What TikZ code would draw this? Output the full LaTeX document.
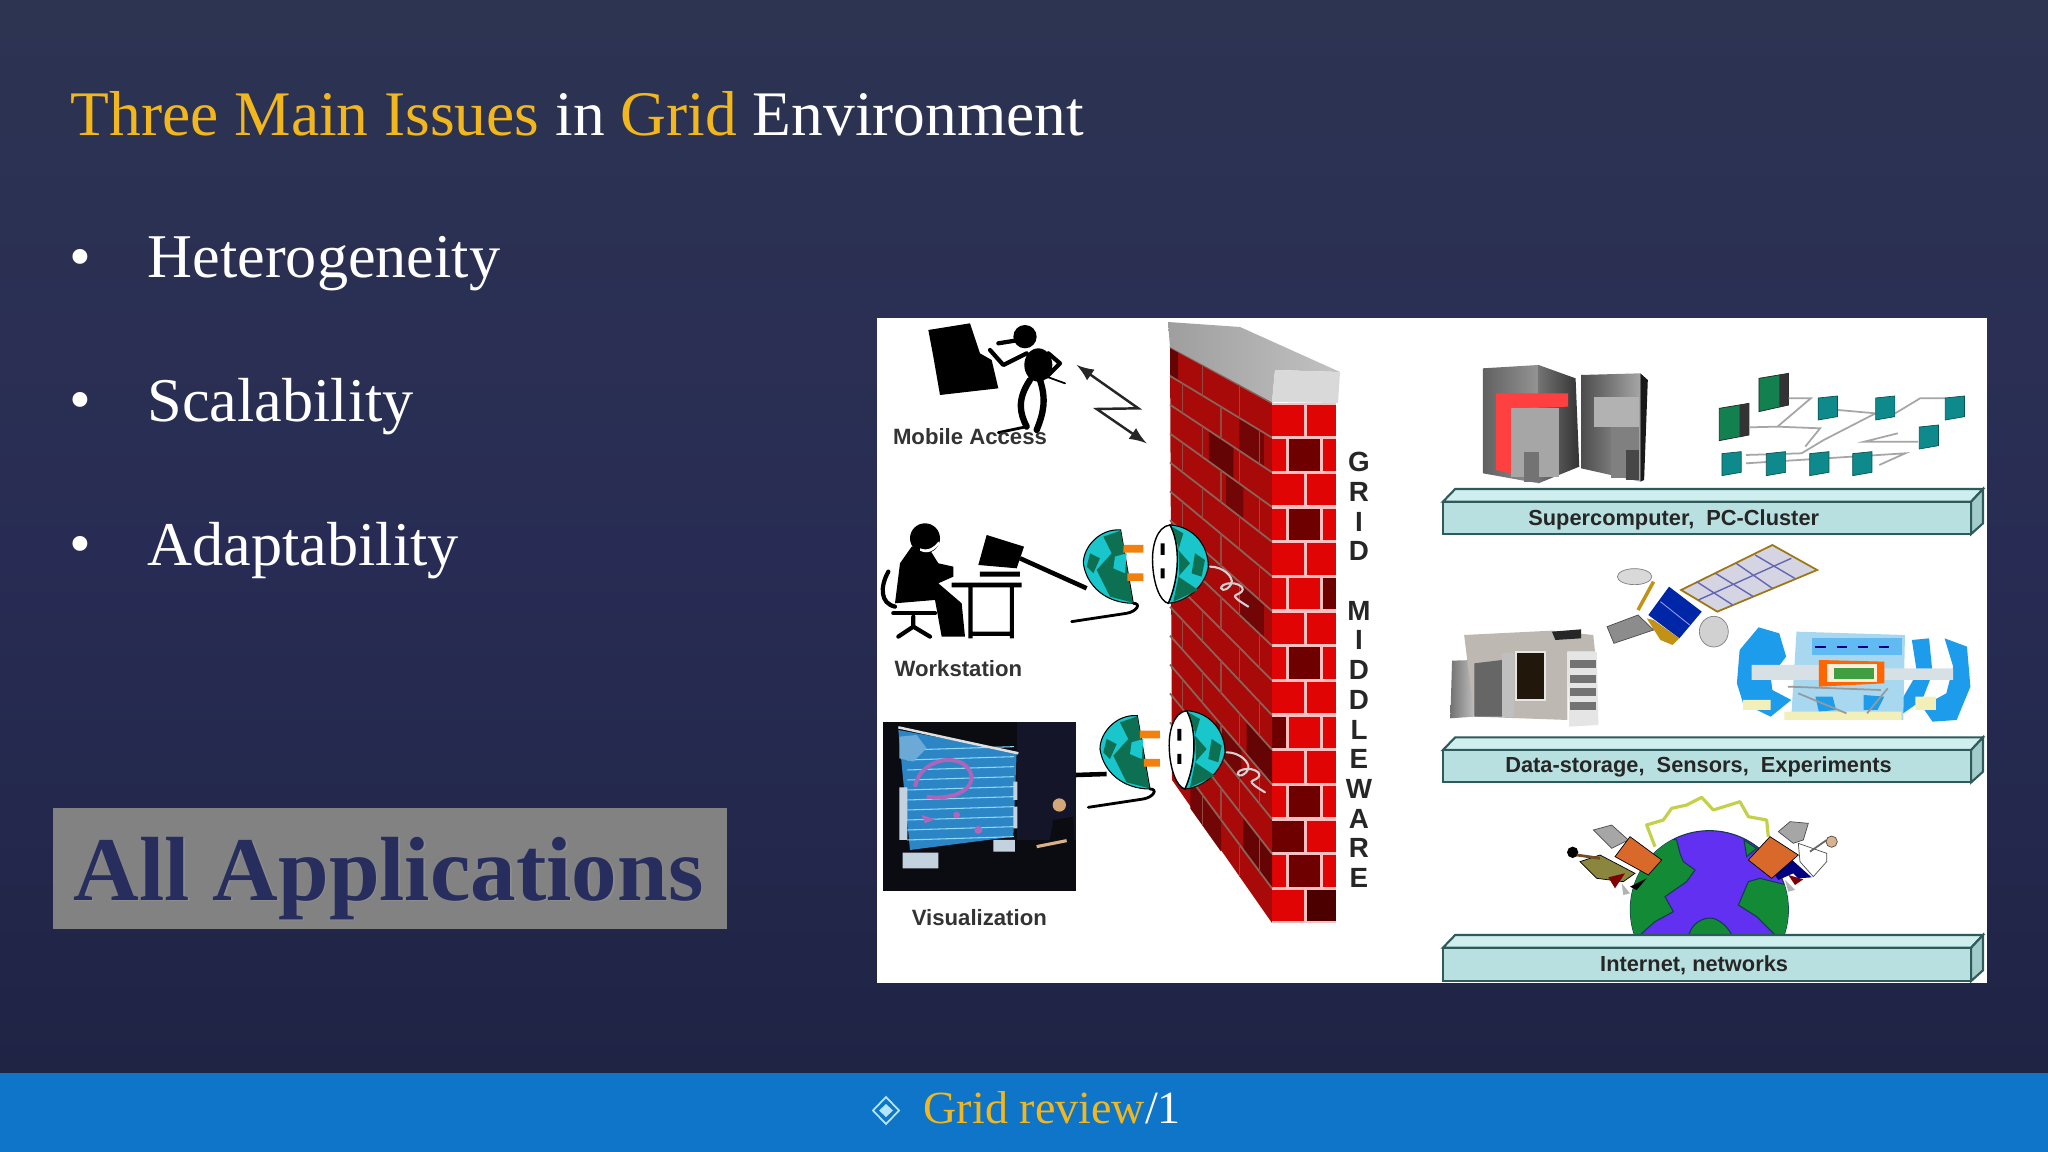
\documentclass[tikz,border=0pt]{standalone}
\usepackage{fontspec}
\setmainfont{Liberation Serif}
\newfontfamily\labelfont{Liberation Sans}
\usetikzlibrary{arrows}

\definecolor{slidetop}{HTML}{2D3452}
\definecolor{slidemid}{HTML}{282C54}
\definecolor{slidebot}{HTML}{1F2445}
\definecolor{gold}{HTML}{F2B71C}
\definecolor{footerblue}{HTML}{0F75C9}
\definecolor{navytext}{HTML}{272E5E}
\definecolor{brickred}{HTML}{E00404}
\definecolor{brickdark}{HTML}{6E0000}
\definecolor{sidered}{HTML}{A80A0A}
\definecolor{sidedark}{HTML}{640404}
\definecolor{mortar}{HTML}{8A6458}
\definecolor{slabfront}{HTML}{B9E0E0}
\definecolor{slabtop}{HTML}{CFEFEF}
\definecolor{slabside}{HTML}{A2CCCC}
\definecolor{slabline}{HTML}{2F5A5A}
\definecolor{plugteal}{HTML}{0E7052}
\definecolor{plugcyan}{HTML}{18C6CC}
\definecolor{clusterteal}{HTML}{0E8A8C}
\definecolor{clustergreen}{HTML}{12804F}
\definecolor{detblue}{HTML}{1E9CEC}
\definecolor{detpale}{HTML}{A8D8F0}
\definecolor{globeviolet}{HTML}{6230F0}
\definecolor{globegreen}{HTML}{128A36}
\definecolor{landline}{HTML}{143A50}
\definecolor{roomdark}{HTML}{15152A}
\definecolor{roomblack}{HTML}{0B0B12}
\definecolor{screenblue}{HTML}{2C86C6}
\definecolor{paneldim}{HTML}{C4D2E0}
\definecolor{boxorange}{HTML}{D9692A}
\definecolor{cableyellow}{HTML}{C4D04A}
\definecolor{panelgrey}{HTML}{D4D4E2}
\definecolor{cabinet}{HTML}{BEB8B2}

\tikzset{
    zoomA/.style={shift={(870,310)},scale=0.3333},
    zoomB/.style={shift={(870,680)},scale=0.3333},
    zoomC/.style={shift={(1420,310)},xscale=0.3704,yscale=0.3333},
    zoomD/.style={shift={(1420,680)},xscale=0.3704,yscale=0.3333},
    zoomE/.style={shift={(1540,790)},scale=0.3333},
    zoomF/.style={shift={(1440,540)},xscale=0.3444,yscale=0.3333},
    bullettext/.style={anchor=west,inner sep=0,text=white,font=\fontsize{17.7}{20}\selectfont},
    labeltext/.style={inner sep=0,text=black!80,font=\labelfont\bfseries\fontsize{6.3}{8}\selectfont},
    slabtext/.style={inner sep=0,text=black!85,font=\labelfont\bfseries\fontsize{6.2}{8}\selectfont},
    silhouette/.style={line width=1.2pt,line cap=round,line join=round},
    smallbox/.style={fill=clusterteal,draw=clusterteal!60!black,line width=.2pt},
    thinedge/.style={draw=black!70,line width=.2pt},
    plug/.pic={
        % halves of the plug, both in the first crop's numbers
        \filldraw[plugcyan,draw=black,line width=.3pt] (752,660) .. controls (690,655) and (640,710) .. (640,760) .. controls (650,830) and (710,880) .. (790,880) -- cycle;
        \fill[plugteal] (752,662) -- (700,680) -- (725,730) -- (680,780) -- (720,860) -- (788,878) -- cycle;
        \fill[plugcyan] (735,740) -- (770,730) -- (765,790) -- (730,775) -- cycle;
        \fill[plugteal] (660,730) -- (690,745) -- (670,790) -- (650,770) -- cycle;
        \fill[orange!80!brown] (760,705) rectangle (820,728) (772,790) rectangle (820,813);
        \filldraw[plugcyan,draw=black,line width=.3pt] (900,645) .. controls (975,650) and (1015,710) .. (1015,770) .. controls (1005,830) and (950,875) .. (895,880) .. controls (930,800) and (930,700) .. (900,645) -- cycle;
        \fill[plugteal] (905,650) -- (940,670) -- (925,720) -- (960,760) -- (925,800) -- (985,840) -- (910,875) -- (928,790) -- (925,710) -- cycle;
        \fill[plugteal] (975,730) -- (1005,750) -- (995,800) -- (965,790) -- cycle;
        \filldraw[white,draw=black,line width=.4pt] (900,645) .. controls (860,650) and (845,710) .. (848,760) .. controls (850,820) and (870,875) .. (895,880) .. controls (930,800) and (930,700) .. (900,645) -- cycle;
        \fill[black] (872,700) rectangle (884,735) (872,775) rectangle (884,805);
        \draw[black!18,line width=.6pt,line cap=round] (1020,770) .. controls (1060,770) and (1090,800) .. (1085,820) .. controls (1070,850) and (1040,840) .. (1060,825) .. controls (1090,810) and (1130,830) .. (1115,845) .. controls (1100,860) and (1070,850) .. (1135,890);
        \draw[black,line width=.8pt,line cap=round] (790,880) .. controls (815,880) and (800,905) .. (770,910) -- (605,935);
    }
}

\newcommand{\frontbrick}[4]{\fill[#4] (#1,{403+34.67*#3+1.6}) rectangle (#2,{403+34.67*#3+33});}
\newcommand{\sidebrick}[4]{%
    \fill[#4] ({1170+102*#2},{347+56*#2+#1*(28.87+5.8*#2)}) -- ({1170+102*#3},{347+56*#3+#1*(28.87+5.8*#3)})
    -- ({1170+102*#3},{347+56*#3+(#1+1)*(28.87+5.8*#3)}) -- ({1170+102*#2},{347+56*#2+(#1+1)*(28.87+5.8*#2)}) -- cycle;}
\newcommand{\drawslab}[2]{%
    \filldraw[slabtop,draw=slabline,line width=.6pt] (62,#1) -- (95,#1-38) -- (1520,#1-38) -- (1488,#1) -- cycle;
    \filldraw[slabside,draw=slabline,line width=.6pt] (1488,#1) -- (1520,#1-38) -- (1520,#2-32) -- (1488,#2) -- cycle;
    \filldraw[slabfront,draw=slabline,line width=.6pt] (62,#1) rectangle (1488,#2);}

\begin{document}
\begin{tikzpicture}[x=0.01cm,y=-0.01cm]

    \useasboundingbox (0,0) rectangle (2048,1152);
    \fill[slidebot] (0,0) rectangle (2048,1152);
    \shade[top color=slidetop,bottom color=slidemid] (0,0) rectangle (2048,560);
    \shade[top color=slidemid,bottom color=slidebot] (0,560) rectangle (2048,1073);
    \fill[footerblue] (0,1073) rectangle (2048,1152);

    % texts of the slide
    \node[bullettext,font=\fontsize{18.05}{20}\selectfont] (title) at (70,114) {\textcolor{gold}{Three Main Issues} in \textcolor{gold}{Grid} Environment};
    \node[bullettext] (dota) at (69,263) {•};
    \node[bullettext] (hetero) at (147,264) {Heterogeneity};
    \node[bullettext] (dotb) at (69,406) {•};
    \node[bullettext] (scal) at (147,407) {Scalability};
    \node[bullettext] (dotc) at (69,550) {•};
    \node[bullettext] (adapt) at (147,551) {Adaptability};

    \fill[black!49] (53,808) rectangle (727,929);
    \node[inner sep=0,text=black!45,font=\bfseries\fontsize{25.9}{28}\selectfont] (allshadow) at (390,880) {All Applications};
    \node[inner sep=0,text=navytext,font=\bfseries\fontsize{25.9}{28}\selectfont] (allapps) at (388.5,879) {All Applications};

    \draw[white!70!cyan,line width=.5pt] (886,1097) -- (899,1110.5) -- (886,1124) -- (873,1110.5) -- cycle;
    \fill[white!70!cyan] (886,1104) -- (893,1110.5) -- (886,1117) -- (879,1110.5) -- cycle;
    \node[anchor=west,inner sep=0,text=white,font=\fontsize{13.1}{14}\selectfont] (footer) at (923,1108) {\textcolor{gold}{Grid review}/1};

    \fill[white] (877,318) rectangle (1987,983);

    % brick wall
    \fill[sidered] (1170,347) -- (1272,403) -- (1272,923) -- (1172,780) -- cycle;
    \fill[brickred!25!white] (1272,403) rectangle (1336,923);
    \foreach \row/\cola/\colb in {0/brickred/brickred,2/brickred/brickred,4/brickred/brickred,6/brickred/brickred,8/brickred/brickred,10/brickred/brickred,12/brickdark/brickred,14/brickred/brickdark!70!black}{
        \frontbrick{1272}{1304}{\row}{\cola}
        \frontbrick{1307}{1336}{\row}{\colb}
    }
    \foreach \row/\cola/\colb/\colc in {1/brickred/brickdark/brickred,3/brickred/brickdark/brickred,5/brickred/brickred/brickdark,7/brickred/brickdark/brickred,9/brickdark/brickred/brickred,11/brickred/brickdark/brickred,13/brickred/brickdark/brickred}{
        \frontbrick{1272}{1286}{\row}{\cola}
        \frontbrick{1289}{1320}{\row}{\colb}
        \frontbrick{1323}{1336}{\row}{\colc}
    }
    \sidebrick{2}{0.38}{0.62}{sidedark}
    \sidebrick{3}{0.55}{0.72}{sidedark!80!sidered}
    \sidebrick{0}{0}{0.08}{sidedark}
    \sidebrick{1}{0.68}{0.92}{sidedark!80!sidered}
    \sidebrick{6}{0.68}{0.92}{sidedark!80!sidered}
    \sidebrick{10}{0.75}{1}{sidedark}
    \sidebrick{11}{0.45}{0.7}{sidedark!80!sidered}
    \sidebrick{13}{0.72}{1}{sidedark}
    \sidebrick{14}{0.2}{0.5}{sidedark!80!sidered}
    \foreach \i in {0,...,14}{
        \draw[mortar,line width=.5pt] (1170,{347+28.87*\i}) -- (1272,{403+34.67*\i});
    }
    \foreach \i in {0,2,...,14}{
        \foreach \t in {0.32,0.68}{
            \draw[mortar!70!sidered,line width=.3pt] ({1170+102*\t},{347+56*\t+\i*(28.87+5.8*\t)}) -- ({1170+102*\t},{347+56*\t+(\i+1)*(28.87+5.8*\t)});
        }
    }
    \foreach \i in {1,3,...,13}{
        \foreach \t in {0.12,0.5,0.88}{
            \draw[mortar!70!sidered,line width=.3pt] ({1170+102*\t},{347+56*\t+\i*(28.87+5.8*\t)}) -- ({1170+102*\t},{347+56*\t+(\i+1)*(28.87+5.8*\t)});
        }
    }
    \shade[left color=black!38,right color=black!24] (1168,322) -- (1240,327) -- (1340,372) -- (1275,370) -- (1272,402) -- (1170,347) -- cycle;
    \fill[black!15] (1275,370) -- (1340,372) -- (1338,403) -- (1272,402) -- cycle;

    \node[inner sep=0,align=center,text=black!85,font=\labelfont\bfseries\fontsize{7.9}{8.45}\selectfont] (gridmw) at (1359,670)
        {G\\R\\I\\D\\ ~ \\M\\I\\D\\D\\L\\E\\W\\A\\R\\E};

    % first column, top
    \begin{scope}[zoomA]
        \fill[black] (175,60) -- (300,40) -- (330,130) -- (365,150) -- (385,235) -- (210,255) -- (190,140) -- cycle;
        \fill[black] (465,80) circle [radius=35];
        \fill[black] (505,165) ellipse [x radius=42,y radius=50];
        \draw[black,silhouette] (385,100) -- (435,92);
        \draw[black,silhouette] (360,120) -- (400,165) -- (470,130);
        \draw[black,silhouette] (535,130) -- (570,160) -- (530,200);
        \draw[black,silhouette,line width=.5pt] (530,200) -- (585,220);
        \draw[black,silhouette,line width=1.8pt] (480,210) .. controls (440,270) and (450,310) .. (470,350);
        \draw[black,silhouette,line width=.8pt] (470,350) -- (385,368);
        \draw[black,silhouette,line width=1.8pt] (510,210) .. controls (530,270) and (520,310) .. (500,360);
        \draw[black!85,line width=.7pt,latex-latex] (620,165) -- (805,295) -- (680,297) -- (830,400);
        \node[labeltext] (mobile) at (300,380) {Mobile Access};

        \fill[black] (165,685) circle [radius=45];
        \fill[black] (125,710) -- (90,760) -- (75,880) -- (195,870) -- (215,980) -- (285,980) -- (275,880) -- (205,820) -- (250,800) -- (250,770) -- (205,760) -- (180,720) -- cycle;
        \fill[white] (150,715) .. controls (175,725) and (195,710) .. (205,695) -- (210,700) .. controls (195,720) and (175,735) .. (150,722) -- cycle;
        \draw[black,silhouette] (55,785) .. controls (30,830) and (30,880) .. (75,890);
        \draw[black,silhouette] (70,910) -- (195,910);
        \draw[black,silhouette] (130,920) -- (130,950) (85,980) -- (130,950) -- (180,980);
        \fill[black] (245,818) rectangle (455,832) (295,832) rectangle (308,985) (420,832) rectangle (432,985) (295,965) rectangle (432,978) (330,785) rectangle (450,800);
        \fill[black] (350,675) -- (462,710) -- (440,775) -- (325,765) -- cycle;
        \draw[black,line width=1.3pt] (450,745) -- (650,835);
        \node[labeltext] (work) at (265,1077) {Workstation};
        \pic[transform shape] {plug};
    \end{scope}

    % first column, bottom
    \begin{scope}[zoomB]
        \fill[roomblack] (40,125) rectangle (618,632);
        \fill[roomdark] (440,125) rectangle (618,480);
        \fill[screenblue] (85,150) -- (440,215) -- (430,470) -- (120,510) -- cycle;
        \foreach \yy in {210,240,270,300,330,360,390,420,450,480}{
            \draw[cyan!45!white,line width=.3pt] (112,\yy) -- (432,\yy-10);
        }
        \draw[magenta!45!blue!60!white,line width=1.1pt] (135,320) .. controls (150,230) and (290,210) .. (305,290) .. controls (305,340) and (230,360) .. (170,350);
        \fill[magenta!50!blue!60!white] (155,405) -- (195,418) -- (165,430) -- cycle (325,450) circle [radius=12] (260,405) circle [radius=10];
        \draw[black!12,line width=.7pt] (85,142) -- (445,220);
        \fill[screenblue!70!white] (88,170) -- (140,165) -- (170,205) -- (130,245) -- (88,235) -- cycle;
        \fill[paneldim] (88,322) rectangle (112,480) (98,518) rectangle (205,565) (370,480) rectangle (435,515) (430,305) rectangle (442,360) (430,380) rectangle (442,445);
        \fill[roomblack] (550,420) -- (610,410) -- (615,530) -- (530,532) -- cycle;
        \fill[brown!70!white] (568,375) circle [radius=20];
        \draw[brown!60!white,line width=.9pt] (500,500) -- (590,482);
        \draw[black,line width=1.3pt] (618,285) -- (710,282);
        \node[labeltext] (vis) at (328,712) {Visualization};
        \begin{scope}[shift={(50,-553)}]
            \pic[transform shape] {plug};
        \end{scope}
    \end{scope}

    % second column, supercomputer and cluster
    \begin{scope}[zoomC]
        \shade[left color=black!62,right color=black!42] (170,175) -- (320,165) -- (320,520) -- (170,490) -- cycle;
        \shade[left color=black!55,right color=black!80] (320,165) -- (420,205) -- (430,470) -- (320,520) -- cycle;
        \shade[left color=black!70,right color=black!35] (435,195) -- (595,190) -- (595,515) -- (435,475) -- cycle;
        \fill[black!90] (595,190) -- (615,210) -- (605,510) -- (595,515) -- cycle;
        \fill[red!75!white] (205,250) -- (400,250) -- (400,290) -- (245,295) -- (245,490) -- (205,480) -- cycle;
        \fill[black!35] (245,295) rectangle (375,500);
        \fill[black!55] (280,425) rectangle (320,515);
        \fill[black!30] (470,260) rectangle (590,350);
        \fill[black!50] (515,350) rectangle (590,505);
        \fill[black!72] (555,420) rectangle (590,510);

        \filldraw[clustergreen,draw=black!85,line width=.2pt] (915,205) -- (995,190) -- (995,285) -- (915,305) -- cycle;
        \fill[black!80] (970,195) -- (995,190) -- (995,285) -- (970,292) -- cycle;
        \filldraw[clustergreen,draw=black!85,line width=.2pt] (808,295) -- (888,280) -- (888,375) -- (808,392) -- cycle;
        \fill[black!80] (863,285) -- (888,280) -- (888,375) -- (863,382) -- cycle;
        \draw[black!35,line width=.5pt] (995,265) -- (1055,265) -- (965,350) -- (890,352) (1128,300) -- (1230,310) -- (1090,390) -- (1030,430) -- (880,435) (1283,310) -- (1350,265) -- (1420,265) (1290,370) -- (1200,395) -- (1345,395) (880,460) -- (1310,430) -- (1240,465) (965,350) -- (1080,355) -- (1040,410);
        \foreach \bx/\by in {1075/258,1230/258,1418/258,1348/345,815/425,935/425,1052/425,1168/425}{
            \fill[smallbox] (\bx,\by+6) -- (\bx+52,\by) -- (\bx+52,\by+62) -- (\bx,\by+72) -- cycle;
        }
    \end{scope}

    % satellite, storage and detector
    \begin{scope}[zoomF]
        \filldraw[panelgrey,draw=gold!65!black,line width=.5pt] (700,150) -- (965,15) -- (1095,90) -- (805,215) -- cycle;
        \draw[black!50!blue!60!white,line width=.4pt] (745,125) -- (850,195) (800,100) -- (910,170) (860,70) -- (965,145) (915,45) -- (1030,115) (750,180) -- (1020,55);
        \filldraw[black!15,draw=black!50,line width=.2pt] (565,110) ellipse [x radius=50,y radius=24];
        \filldraw[black!18,draw=black!50,line width=.2pt] (795,275) ellipse [x radius=42,y radius=46];
        \draw[gold!80!black,line width=1pt] (620,125) -- (575,210);
        \filldraw[black!45,thinedge] (485,260) -- (575,225) -- (620,270) -- (505,310) -- cycle;
        \fill[blue!60!black!85!cyan] (605,225) -- (665,140) -- (760,215) -- (695,295) -- cycle;
        \draw[white!60!blue,line width=.25pt] (640,185) -- (725,255);
        \fill[gold!80!black] (600,235) -- (620,240) -- (695,295) -- (675,315) -- (640,300) -- cycle;

        \shade[left color=black!55,right color=black!25] (35,362) -- (100,360) -- (100,530) -- (30,535) -- cycle;
        \fill[cabinet] (70,285) -- (325,272) -- (445,285) -- (450,335) -- (370,335) -- (370,540) -- (100,530) -- cycle;
        \fill[black!60] (100,370) -- (180,360) -- (180,530) -- (100,530) -- cycle;
        \fill[black!25] (180,340) rectangle (215,532);
        \filldraw[black!82!brown,draw=black!10,line width=.5pt] (220,335) rectangle (305,480);
        \fill[black!85] (325,275) -- (410,268) -- (410,295) -- (335,300) -- cycle;
        \fill[black!10] (370,335) -- (455,335) -- (460,555) -- (375,560) -- cycle;
        \foreach \yy in {360,405,445,485}{
            \fill[black!55] (378,\yy) rectangle (452,\yy+24);
        }

        \fill[detblue] (862,430) -- (870,330) -- (925,262) -- (985,280) -- (1005,350) -- (960,410) -- (965,450) -- (1020,480) -- (960,530) -- (880,490) -- cycle;
        \fill[detblue] (1370,300) -- (1420,295) -- (1430,400) -- (1400,480) -- (1345,520) -- (1340,480) -- (1385,400) -- cycle;
        \fill[detblue] (1465,295) -- (1530,320) -- (1540,440) -- (1500,540) -- (1430,545) -- (1400,500) -- (1470,460) -- (1490,380) -- cycle;
        \fill[detpale] (1035,275) -- (1350,285) -- (1345,540) -- (1020,530) -- cycle;
        \fill[detblue!70!white] (1080,295) rectangle (1340,345);
        \draw[black!50!blue,line width=.5pt,dashed] (1090,320) -- (1330,320);
        \fill[detpale!70!black!30!white] (905,375) rectangle (1105,420) (1290,385) rectangle (1490,420);
        \fill[orange!80!red] (1100,360) -- (1290,365) -- (1290,430) -- (1100,440) -- cycle;
        \fill[white!85!orange] (1125,372) rectangle (1270,425);
        \fill[green!50!black!75!white] (1145,385) rectangle (1260,418);
        \fill[detblue] (1090,470) -- (1140,470) -- (1150,510) -- (1100,515) -- cycle (1230,465) -- (1290,470) -- (1270,510) -- (1230,510) -- cycle;
        \fill[black!20!yellow!30!white] (880,480) rectangle (960,510) (1000,515) rectangle (1340,540) (1380,470) rectangle (1440,510);
        \draw[black!40,line width=.5pt] (1010,440) -- (1280,450) (1040,460) -- (1180,520) (1300,445) -- (1240,520);
    \end{scope}

    % slabs and globe
    \begin{scope}[zoomC]
        \drawslab{575}{672}
        \node[slabtext] (super) at (685,631) {Supercomputer, \ PC-Cluster};
    \end{scope}

    \begin{scope}[zoomD]
        \drawslab{210}{307}
        \node[slabtext] (data) at (752,261) {Data-storage, \ Sensors, \ Experiments};
    \end{scope}

    \begin{scope}[zoomE]
        \begin{scope}
            \clip (0,0) rectangle (1020,440);
            \filldraw[globeviolet,draw=landline,line width=.3pt] (508,359) circle [radius=237];
            \begin{scope}
                \clip (508,359) circle [radius=237];
                \filldraw[globegreen,draw=landline,line width=.3pt] (410,150) -- (420,190) -- (430,215) -- (465,240) -- (440,275) -- (375,320) -- (400,365) -- (345,395) -- (300,435) -- (250,445) -- (240,250) -- (360,140) -- cycle;
                \filldraw[globegreen,draw=landline,line width=.3pt] (612,150) -- (650,175) -- (620,200) -- cycle;
                \filldraw[globegreen,draw=landline,line width=.3pt] (595,345) -- (625,275) -- (660,265) -- (760,290) -- (760,445) -- (715,445) -- (650,380) -- cycle;
                \filldraw[globegreen,draw=landline,line width=.3pt] (445,445) .. controls (450,400) and (490,380) .. (520,385) .. controls (550,395) and (570,420) .. (580,445) -- cycle;
            \end{scope}
        \end{scope}
        \draw[cableyellow,line width=.9pt,line join=round] (345,170) -- (320,105) -- (370,90) -- (395,55) -- (440,45) -- (485,22) -- (520,60) -- (600,35) -- (625,80) -- (680,90) -- (685,140);

        \filldraw[black!35,thinedge] (160,120) -- (215,105) -- (265,150) -- (215,175) -- cycle;
        \filldraw[olive!70!black!80!white,draw=black,line width=.2pt] (120,215) -- (180,195) -- (285,250) -- (250,275) -- (170,265) -- cycle;
        \fill[red!50!black] (205,262) -- (255,250) -- (225,295) -- cycle;
        \fill[black!30] (245,280) -- (270,310) -- (250,315) -- cycle;
        \fill[black] (270,290) -- (320,265) -- (290,300) -- cycle;
        \fill[black] (98,187) circle [radius=17];
        \draw[brown!60!black,line width=.8pt] (110,195) -- (180,205);
        \filldraw[boxorange,draw=black,line width=.2pt] (270,140) -- (365,210) -- (325,255) -- (225,200) -- cycle;

        \filldraw[black!35,thinedge] (715,125) -- (750,95) -- (805,100) -- (790,150) -- (760,160) -- cycle;
        \filldraw[white,thinedge] (775,160) -- (860,190) -- (860,215) -- (820,260) -- (780,215) -- cycle;
        \draw[black!60,line width=.5pt] (810,185) -- (860,150);
        \filldraw[brown!60!white,thinedge] (875,155) circle [radius=17];
        \fill[red!50!black] (745,255) -- (790,268) -- (765,285) -- cycle;
        \fill[black!30] (735,270) -- (765,300) -- (745,305) -- cycle;
        \fill[blue!50!black] (745,200) -- (815,262) -- (775,265) -- (760,250) -- (715,270) -- (705,255) -- cycle;
        \filldraw[boxorange,draw=black,line width=.2pt] (690,140) -- (775,195) -- (695,265) -- (625,210) -- cycle;
    \end{scope}

    \begin{scope}[zoomD]
        \drawslab{803}{903}
        \node[slabtext] (internet) at (740,856) {Internet, networks};
    \end{scope}

\end{tikzpicture}
\end{document}
